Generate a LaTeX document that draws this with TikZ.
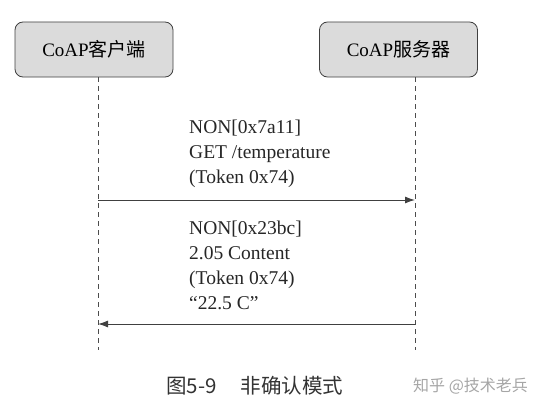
\documentclass[tikz,border=0pt]{standalone}
\usepackage{fontspec}
\setmainfont{Liberation Serif}
\newfontfamily\cjk{Noto Sans CJK SC}
\usetikzlibrary{arrows.meta}
\begin{document}
\begin{tikzpicture}[x=1pt,y=-1pt,
  actor/.style={draw=black!75,line width=0.8pt,fill=black!14,rounded corners=8pt,minimum width=158pt,minimum height=55pt,inner sep=0pt,font=\fontsize{19}{22}\selectfont},
  life/.style={draw=black!70,line width=0.7pt,dash pattern=on 5pt off 4pt},
  msg/.style={draw=black!75,line width=1pt,-{Latex[length=10pt,width=7pt]}},
  lbl/.style={align=left,anchor=north west,inner sep=0pt,font=\fontsize{19.5}{25}\selectfont,text=black!85}]
\useasboundingbox (0,0) rectangle (546,412);
\node[actor] (cl) at (94,49.5) {CoAP{\cjk 客户端}};
\node[actor] (sv) at (398.5,49.5) {CoAP{\cjk 服务器}};
\coordinate (cb) at (98,350);
\coordinate (sb) at (415,350);
\draw[life] (98,77) -- (cb);
\draw[life] (415,77) -- (sb);
\coordinate (a1) at (98,200);
\coordinate (b1) at (415,200);
\coordinate (a2) at (415,324);
\coordinate (b2) at (98,324);
\draw[msg] (a1) -- (b1);
\draw[msg] (a2) -- (b2);
\node[lbl] (t1) at (189,120) {NON[0x7a11]\\GET /temperature\\(Token 0x74)};
\node[lbl] (t2) at (189,221) {NON[0x23bc]\\2.05 Content\\(Token 0x74)\\“22.5 C”};
\node[anchor=west,inner sep=0pt,font=\cjk\fontsize{20.5}{22}\selectfont,text=black!80] (cap) at (166,386) {图5-9\hspace{24pt}非确认模式};
\node[anchor=west,inner sep=0pt,font=\cjk\fontsize{16}{18}\selectfont,text=black!35] (wm) at (413,386) {知乎 @技术老兵};
\end{tikzpicture}
\end{document}
